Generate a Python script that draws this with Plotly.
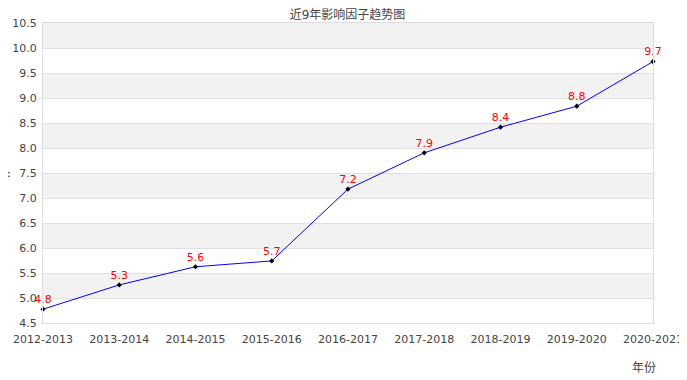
import plotly.graph_objects as go

years = ["2012-2013", "2013-2014", "2014-2015", "2015-2016", "2016-2017",
         "2017-2018", "2018-2019", "2019-2020", "2020-2021"]
impact = [4.776, 5.262, 5.625, 5.742, 7.178, 7.904, 8.416, 8.836, 9.728]
labels = [f"{v:.1f}" for v in impact]
y_ticks = [4.5, 5.0, 5.5, 6.0, 6.5, 7.0, 7.5, 8.0, 8.5, 9.0, 9.5, 10.0, 10.5]

font = "DejaVu Sans, Noto Sans CJK SC, sans-serif"

fig = go.Figure()
fig.add_trace(go.Scatter(
    x=years, y=impact, mode="lines+markers+text",
    text=labels, textposition="top center",
    textfont=dict(color="red", size=11, family=font),
    line=dict(color="blue", width=1),
    marker=dict(symbol="diamond", size=4, color="black"),
    cliponaxis=False, hoverinfo="x+y",
))

shapes = []
for lo in [5.0, 6.0, 7.0, 8.0, 9.0, 10.0]:
    shapes.append(dict(type="rect", xref="paper", yref="y", x0=0, x1=1,
                       y0=lo, y1=lo + 0.5, fillcolor="#f2f2f2",
                       line=dict(width=0), layer="below"))

fig.update_layout(
    width=679, height=372,
    margin=dict(l=35, r=34, t=15, b=57, autoexpand=False),
    paper_bgcolor="white", plot_bgcolor="white",
    showlegend=False,
    shapes=shapes,
    title=dict(text="近9年影响因子趋势图", x=0.5, xanchor="center", y=0.992, yanchor="top",
               font=dict(size=12, color="#444", family=font)),
    font=dict(family=font, size=11, color="#444"),
    xaxis=dict(type="category", range=[0, 8], showgrid=False, automargin=False,
               showline=True, linecolor="#ddd", mirror=True,
               ticks="", ticklabelstandoff=6,
               tickfont=dict(size=11, color="#444")),
    yaxis=dict(range=[4.5, 10.5], tickvals=y_ticks, automargin=False,
               ticktext=[f"{t:.1f}" for t in y_ticks],
               showgrid=True, gridcolor="#e0e0e0", gridwidth=1,
               showline=True, linecolor="#ddd", mirror=True,
               zeroline=False, ticks="", ticklabelstandoff=3,
               tickfont=dict(size=11, color="#444")),
    annotations=[
        dict(text="IF", xref="paper", yref="paper", x=0, xshift=-37, y=0.5,
             textangle=-90, showarrow=False, xanchor="center", yanchor="middle",
             font=dict(size=12, color="#444", family=font)),
        dict(text="年份", xref="paper", yref="paper", x=0.985, y=0, yshift=-36,
             showarrow=False, xanchor="center", yanchor="top",
             font=dict(size=12, color="#444", family=font)),
    ],
)

fig.write_html("out.html")
